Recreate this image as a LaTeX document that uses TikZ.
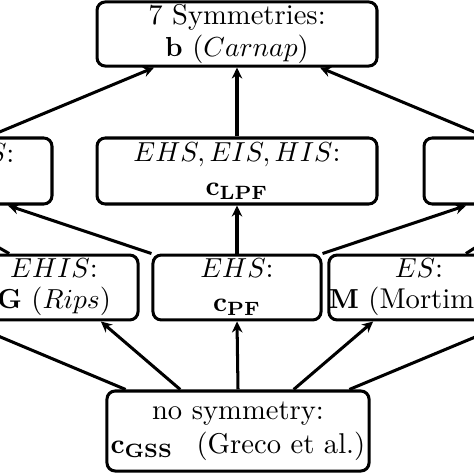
\documentclass[tikz,border=0pt]{standalone}
\usetikzlibrary{arrows.meta,calc}
\begin{document}
\begin{tikzpicture}[x=0.3636pt,y=-0.3636pt,
  box/.style={draw,line width=1.1pt,rounded corners=3pt,inner sep=0pt,align=center,font=\fontsize{10.4}{11.3}\selectfont},
  arr/.style={line width=1.1pt,-{Stealth[length=4pt,width=3.8pt,inset=1.3pt]}},
  ln/.style={line width=1.1pt}]
\useasboundingbox (0,0) rectangle (474,474);
\clip (0,0) rectangle (474,474);
% top
\node[box,minimum width=101.8pt,minimum height=23.3pt] (top) at (237,34) {7 Symmetries:\\ $\mathbf{b}$ ($Carnap$)};
% middle row
\node[box,minimum width=101.8pt,minimum height=24pt] (mc) at (237,171) {$EHS, EIS, HIS$:\\[1pt] $\mathbf{c}_{\mathbf{LPF}}$};
\node[box,minimum width=101.8pt,minimum height=24pt] (ml) at (-88,171) {};
\node[anchor=base east,inner sep=0pt,font=\fontsize{10.4}{11.3}\selectfont] (mltext) at (15,163) {$S$:};
\node[box,minimum width=101.8pt,minimum height=24pt] (mr) at (564,171) {};
% bottom row
\node[box,minimum width=61.1pt,minimum height=23.6pt] (ehis) at (54,287.5) {$EHIS$:\\ $\mathbf{G}$ ($Rips$)};
\node[box,minimum width=61.1pt,minimum height=23.6pt] (ehs) at (237,287.5) {$EHS$:\\[1pt] $\mathbf{c}_{\mathbf{PF}}$};
\node[box,minimum width=64pt,minimum height=23.6pt] (es) at (419,287.5) {$ES$:\\ $\mathbf{M}$ (Mortimer)};
% bottom
\node[box,minimum width=95.3pt,minimum height=29.1pt,font=\fontsize{10.4}{12.2}\selectfont] (none) at (238,431) {no symmetry:\\ $\mathbf{c}_{\mathbf{GSS}}$\hspace{8.5pt}(Greco et al.)};
\coordinate (bl2) at (-40,320);
\coordinate (br2) at (516,320);
% arrows to top
\draw[arr] (mc.north) -- (top.south);
\draw[arr] ($(ml.north west)!0.771!(ml.north east)$) -- ($(top.south west)!0.207!(top.south east)$);
\draw[arr] ($(mr.north west)!0.221!(mr.north east)$) -- ($(top.south west)!0.793!(top.south east)$);
% arrows to middle row
\draw[arr] (ehs.north) -- (mc.south);
\draw[arr] (ehs.north west) -- ($(ml.south west)!0.839!(ml.south east)$);
\draw[arr] (ehs.north east) -- ($(mr.south west)!0.154!(mr.south east)$);
\draw[arr] ($(ehis.north west)!0.238!(ehis.north east)$) -- ($(ml.south west)!0.546!(ml.south east)$);
\draw[arr] ($(es.north west)!0.756!(es.north east)$) -- ($(mr.south west)!0.42!(mr.south east)$);
% arrows to bottom row
\draw[arr] ($(none.north west)!0.282!(none.north east)$) -- ($(ehis.south west)!0.774!(ehis.south east)$);
\draw[arr] (none.north) -- (ehs.south);
\draw[arr] ($(none.north west)!0.71!(none.north east)$) -- ($(es.south west)!0.25!(es.south east)$);
\draw[arr] ($(none.north west)!0.076!(none.north east)$) -- (bl2);
\draw[arr] ($(none.north west)!0.92!(none.north east)$) -- (br2);
\end{tikzpicture}
\end{document}
